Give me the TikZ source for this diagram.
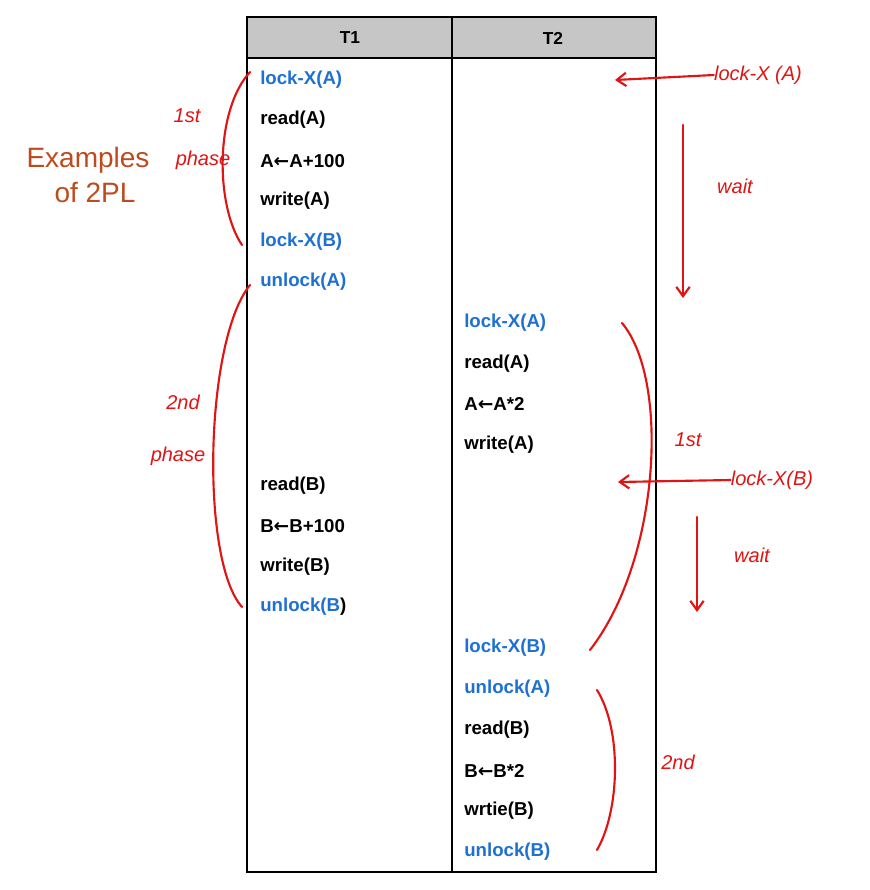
\documentclass[tikz,border=0pt]{standalone}
\usepackage{fontspec}
\setmainfont{Liberation Sans}
\newfontfamily\arrowfont{DejaVu Sans}
\usetikzlibrary{arrows.meta}
\definecolor{lblue}{RGB}{30,112,210}
\definecolor{hred}{RGB}{225,20,20}
\definecolor{ttl}{RGB}{190,75,30}
\newcommand{\la}{{\arrowfont\bfseries\char"2190}}
\begin{document}
\begin{tikzpicture}[x=0.75pt,y=-0.75pt,
  cell/.style={anchor=west,font=\fontsize{14}{16}\selectfont\bfseries,inner sep=0pt},
  bl/.style={cell,text=lblue},
  hw/.style={text=hred,font=\fontsize{15}{17}\selectfont\itshape,inner sep=0pt},
  hand/.style={hred,line width=1.6pt,line cap=round},
  harr/.style={hand,-{Straight Barb[length=7pt,width=10pt]}}]
\useasboundingbox (0,0) rectangle (869,890);
\fill[white] (0,0) rectangle (869,890);
\fill[gray!45] (247,17) rectangle (656,58);
\draw[line width=2pt] (247,17) rectangle (656,872);
\draw[line width=1pt] (247,58) -- (656,58);
\draw[line width=1pt] (452,17) -- (452,872);
\node[font=\fontsize{13}{15}\selectfont\bfseries] (h1) at (350,38) {T1};
\node[font=\fontsize{13}{15}\selectfont\bfseries] (h2) at (553,38) {T2};
% T1
\node[bl] (a1) at (260,80) {lock-X(A)};
\node[cell] (a2) at (260,120) {read(A)};
\node[cell] (a3) at (260,161) {A\la A+100};
\node[cell] (a4) at (260,201) {write(A)};
\node[bl] (a5) at (260,242) {lock-X(B)};
\node[bl] (a6) at (260,282) {unlock(A)};
\node[cell] (a7) at (260,486) {read(B)};
\node[cell] (a8) at (260,526) {B\la B+100};
\node[cell] (a9) at (260,567) {write(B)};
\node[bl] (a10) at (260,607) {unlock(B\textcolor{black}{)}};
% T2
\node[bl] (b1) at (464,323) {lock-X(A)};
\node[cell] (b2) at (464,364) {read(A)};
\node[cell] (b3) at (464,404) {A\la A*2};
\node[cell] (b4) at (464,445) {write(A)};
\node[bl] (b5) at (464,648) {lock-X(B)};
\node[bl] (b6) at (464,689) {unlock(A)};
\node[cell] (b7) at (464,730) {read(B)};
\node[cell] (b8) at (464,771) {B\la B*2};
\node[cell] (b9) at (464,811) {wrtie(B)};
\node[bl] (b10) at (464,852) {unlock(B)};
% title
\node[text=ttl,font=\fontsize{21}{26}\selectfont,align=center] (t) at (88,175) {Examples\\\hspace*{0.5em}of 2PL};
% handwritten
\draw[hand] (250,72) .. controls (215,110) and (215,205) .. (242,245);
\draw[hand] (250,285) .. controls (205,340) and (200,560) .. (242,607);
\draw[hand] (622,323) .. controls (670,380) and (660,560) .. (590,650);
\draw[hand] (597,690) .. controls (622,730) and (620,810) .. (597,850);
\node[hw] (p1) at (187,116) {1st};
\node[hw] (p2) at (203,160) {phase};
\node[hw] (p3) at (183,402) {2nd};
\node[hw] (p4) at (178,456) {phase};
\node[hw] (q1) at (758,75) {lock-X (A)};
\node[hw] (q2) at (735,186) {wait};
\node[hw] (q3) at (688,440) {1st};
\node[hw] (q4) at (772,480) {lock-X(B)};
\node[hw] (q5) at (752,555) {wait};
\node[hw] (q6) at (678,762) {2nd};
\coordinate (w1) at (683,125); \coordinate (w2) at (683,298);
\coordinate (w3) at (697,517); \coordinate (w4) at (697,612);
\draw[harr] (q1.west) -- (615,80);
\draw[harr] (w1) -- (w2);
\draw[harr] (q4.west) -- (618,482);
\draw[harr] (w3) -- (w4);
\end{tikzpicture}
\end{document}
